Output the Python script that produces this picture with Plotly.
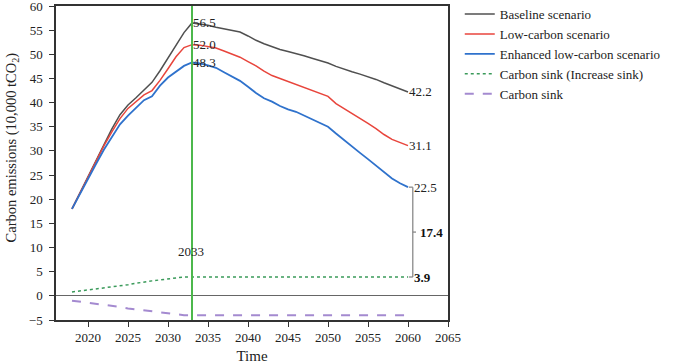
import plotly.graph_objects as go

years = list(range(2018, 2061))

baseline = [18.0, 21.3, 24.6, 28.0, 31.4, 34.6, 37.5, 39.5, 41.0, 42.6, 44.2, 46.6, 49.3, 52.0, 54.5, 56.5,
            56.3, 56.0, 55.6, 55.3, 55.0, 54.6, 53.8, 52.9, 52.2, 51.6, 51.0, 50.6, 50.2, 49.7, 49.2, 48.7,
            48.2, 47.5, 46.9, 46.4, 45.9, 45.4, 44.8, 44.1, 43.5, 42.9, 42.2]
low_carbon = [18.0, 21.3, 24.6, 27.9, 31.1, 34.0, 36.7, 38.8, 40.3, 41.6, 42.5, 44.6, 47.0, 49.5, 51.4, 52.0,
              51.9, 51.6, 51.3, 50.7, 50.1, 49.4, 48.5, 47.6, 46.5, 45.6, 45.0, 44.4, 43.8, 43.2, 42.6, 42.0,
              41.3, 39.8, 38.8, 37.8, 36.8, 35.7, 34.6, 33.4, 32.4, 31.7, 31.1]
enhanced = [18.0, 21.2, 24.3, 27.3, 30.3, 33.0, 35.5, 37.3, 39.0, 40.5, 41.3, 43.5, 45.2, 46.4, 47.6, 48.3,
            48.1, 47.7, 47.2, 46.3, 45.4, 44.5, 43.3, 42.0, 40.9, 40.2, 39.3, 38.6, 38.1, 37.3, 36.5, 35.8,
            35.0, 33.6, 32.2, 30.9, 29.6, 28.3, 27.0, 25.6, 24.3, 23.3, 22.5]
sink_increase = [0.8, 1.0, 1.2, 1.4, 1.6, 1.8, 2.0, 2.3, 2.6, 2.9, 3.1, 3.3, 3.5, 3.7, 3.9] + [3.9] * 28
sink = [-1.0, -1.2, -1.4, -1.6, -1.9, -2.1, -2.3, -2.6, -2.8, -3.0, -3.3, -3.5, -3.7, -3.9, -4.0] + [-4.0] * 28

peak_year = 2033
gap_value = 17.4
x_ticks = list(range(2020, 2066, 5))
y_ticks = list(range(-5, 61, 5))

FONT = "Liberation Serif"

fig = go.Figure()
fig.add_trace(go.Scatter(x=years, y=baseline, mode="lines", name="Baseline scenario",
                         line=dict(color="#505050", width=1.5)))
fig.add_trace(go.Scatter(x=years, y=low_carbon, mode="lines", name="Low-carbon scenario",
                         line=dict(color="#e8453c", width=1.5)))
fig.add_trace(go.Scatter(x=years, y=enhanced, mode="lines", name="Enhanced low-carbon scenario",
                         line=dict(color="#2f72cc", width=1.8)))
fig.add_trace(go.Scatter(x=years, y=sink_increase, mode="lines", name="Carbon sink (Increase sink)",
                         line=dict(color="#3a9a5a", width=1.5, dash="dot")))
fig.add_trace(go.Scatter(x=years, y=sink, mode="lines", name="Carbon sink",
                         line=dict(color="#a48ad0", width=2, dash="dash")))

# vertical peak line
fig.add_shape(type="line", x0=peak_year, x1=peak_year, y0=-5, y1=60, xref="x", yref="y",
              line=dict(color="#4cb84c", width=2))

# bracket
bx = 2060.6
fig.add_shape(type="line", x0=bx, x1=bx, y0=sink_increase[-1], y1=enhanced[-1],
              line=dict(color="#808080", width=1.2))
fig.add_shape(type="line", x0=2060.1, x1=bx, y0=enhanced[-1], y1=enhanced[-1],
              line=dict(color="#808080", width=1.2))
fig.add_shape(type="line", x0=2060.1, x1=bx, y0=sink_increase[-1], y1=sink_increase[-1],
              line=dict(color="#808080", width=1.2))
mid = (enhanced[-1] + sink_increase[-1]) / 2
fig.add_shape(type="line", x0=bx, x1=bx + 0.4, y0=mid, y1=mid,
              line=dict(color="#808080", width=1.2))

ann_font = dict(family=FONT, size=13, color="#222")
bold_font = dict(family=FONT, size=13, color="#111")
annotations = [
    dict(x=peak_year, y=baseline[15], text=f"{baseline[15]:.1f}", xanchor="left", yanchor="middle", font=ann_font),
    dict(x=peak_year, y=low_carbon[15], text=f"{low_carbon[15]:.1f}", xanchor="left", yanchor="middle", font=ann_font),
    dict(x=peak_year, y=enhanced[15], text=f"{enhanced[15]:.1f}", xanchor="left", yanchor="middle", font=ann_font),
    dict(x=2060, y=baseline[-1], text=f"{baseline[-1]:.1f}", xanchor="left", yanchor="middle", font=ann_font),
    dict(x=2060, y=low_carbon[-1], text=f"{low_carbon[-1]:.1f}", xanchor="left", yanchor="middle", font=ann_font),
    dict(x=bx, y=enhanced[-1], text=f"{enhanced[-1]:.1f}", xanchor="left", yanchor="middle", font=ann_font),
    dict(x=bx + 0.8, y=mid, text=f"<b>{gap_value:.1f}</b>", xanchor="left", yanchor="middle", font=bold_font),
    dict(x=bx, y=sink_increase[-1], text=f"<b>{sink_increase[-1]:.1f}</b>", xanchor="left", yanchor="middle", font=bold_font),
    dict(x=peak_year, y=9.1, text=str(peak_year), xanchor="center", yanchor="middle", font=ann_font),
]
for a in annotations:
    a.update(xref="x", yref="y", showarrow=False, xshift=-1)
annotations.append(dict(x=-0.112, y=0.55, xref="paper", yref="paper", showarrow=False, textangle=-90,
                        xanchor="center", yanchor="middle",
                        text="Carbon emissions (10,000 tCO<sub>2</sub>)",
                        font=dict(family=FONT, size=14.5, color="#222")))
fig.update_layout(annotations=annotations)

fig.update_layout(
    width=685, height=364,
    margin=dict(l=56, r=237, t=6, b=44, autoexpand=False),
    paper_bgcolor="white", plot_bgcolor="white",
    font=dict(family=FONT, size=13, color="#222"),
    showlegend=True,
    legend=dict(x=1.03, y=1.022, xanchor="left", yanchor="top", font=dict(family=FONT, size=13, color="#222"),
                bgcolor="rgba(0,0,0,0)", itemwidth=30, tracegroupgap=0),
    xaxis=dict(range=[2016, 2065], tickvals=x_ticks, ticks="outside", ticklen=5, tickcolor="#333",
               showline=True, linecolor="#333", linewidth=1.5, mirror=True, showgrid=False, zeroline=False,
               title=dict(text="Time", font=dict(family=FONT, size=15), standoff=8),
               tickfont=dict(family=FONT, size=13), automargin=False),
    yaxis=dict(range=[-5, 60], tickvals=y_ticks, ticks="outside", ticklen=5, tickcolor="#333",
               showline=True, linecolor="#333", linewidth=1.5, mirror=True, showgrid=False,
               zeroline=True, zerolinecolor="#666", zerolinewidth=1, ticklabelstandoff=4,
               ticklabeloverflow="allow",
               tickfont=dict(family=FONT, size=13), automargin=False),
)

fig.write_html("out.html", config={"displayModeBar": False},
               post_script="document.body.style.margin='0';document.body.style.padding='0';")
